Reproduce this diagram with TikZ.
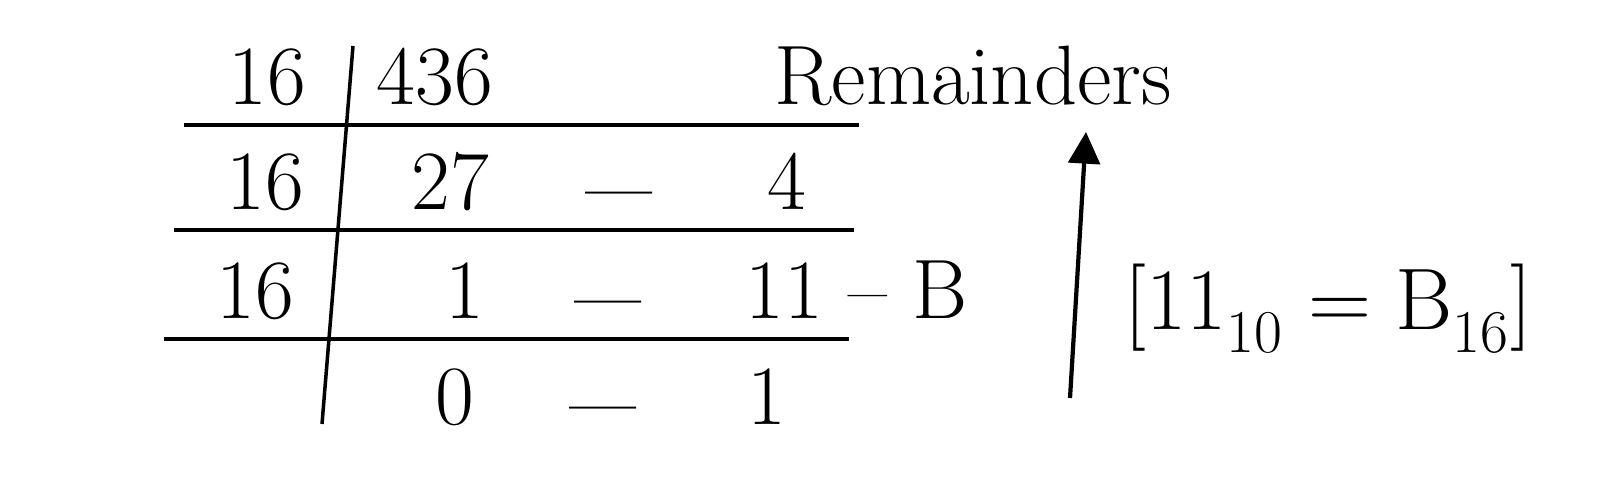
\documentclass[tikz,border=0pt]{standalone}
\usetikzlibrary{arrows.meta}
\begin{document}
\begin{tikzpicture}[
	every node/.style={inner sep=0pt, font=\fontsize{24}{28}\selectfont, text height=15.5pt, text depth=0pt},
	dashsign/.style={font=\fontsize{17}{20}\selectfont\bfseries},
	rule/.style={line width=1pt}
	]
	\useasboundingbox (0,0) rectangle (16,4.8);
	
	% divisors
	\node [anchor=east] (d1) at (3.07,4.03) {16};
	\node [anchor=east] (d2) at (3.05,2.98) {16};
	\node [anchor=east] (d3) at (2.95,1.89) {16};
	
	% quotients
	\node [anchor=west] (q0) at (3.76,4.03) {436};
	\node (q1) at (4.50,2.98) {27};
	\node (q2) at (4.65,1.89) {1};
	\node (q3) at (4.55,0.83) {0};
	
	% dashes
	\node [dashsign] (s1) at (6.19,2.98) {---};
	\node [dashsign] (s2) at (6.08,1.89) {---};
	\node [dashsign] (s3) at (6.03,0.83) {---};
	
	% remainders
	\node (head) at (9.73,4.03) {Remainders};
	\node (r1) at (7.87,2.98) {4};
	\node [anchor=west] (r2) at (7.45,1.89) {11 -- B};
	\node (r3) at (7.67,0.83) {1};
	
	% vertical axis
	\draw [rule] (3.53,4.34) -- (3.22,0.56);
	
	% horizontal axes
	\draw [rule] (1.84,3.55) -- (8.59,3.55);
	\draw [rule] (1.74,2.50) -- (8.54,2.50);
	\draw [rule] (1.64,1.41) -- (8.49,1.41);
	
	% reading direction
	\coordinate (lo) at (10.70,0.82);
	\coordinate (hi) at (10.86,3.48);
	\draw [line width=1.2pt, -{Triangle[length=9pt,width=9pt]}] (lo) -- (hi);
	
	% additional information
	\node [anchor=west] (note) at (11.24,1.78)
		{$[11_{\lower3pt\hbox{$\scriptstyle 10$}} = \mathrm{B}_{\lower3pt\hbox{$\scriptstyle 16$}}]$};
	
\end{tikzpicture}
\end{document}
